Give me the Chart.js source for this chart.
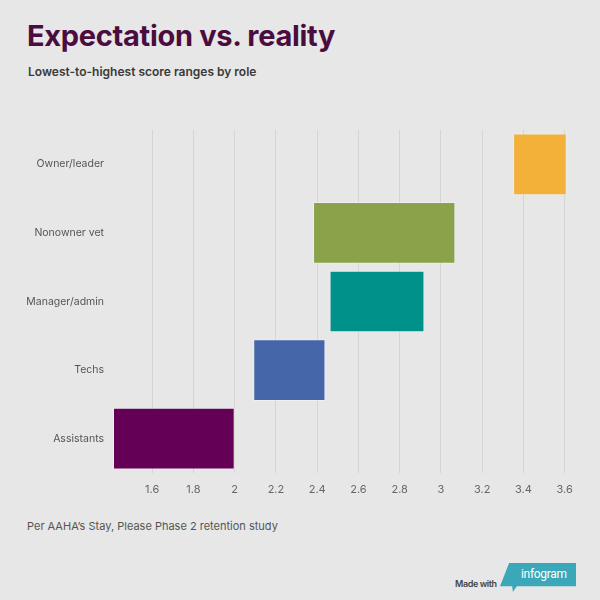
<!DOCTYPE html>
<html>
<head>
<meta charset="utf-8">
<script src="https://cdn.jsdelivr.net/npm/chart.js@4/dist/chart.umd.min.js"></script>
<style>
  html,body{margin:0;padding:0;}
  body{width:600px;height:600px;background:#e6e7e6;position:relative;overflow:hidden;font-family:Inter,"Noto Sans",sans-serif;}
  #title{position:absolute;left:27px;top:18px;font-size:29px;font-weight:700;color:#4b0c3e;letter-spacing:-0.3px;}
  #sub{position:absolute;left:28px;top:64px;font-size:12px;font-weight:600;color:#3a3a3a;}
  #wrap{position:absolute;left:0;top:110px;width:600px;height:400px;}
  #note{position:absolute;left:27px;top:519px;font-size:11px;color:#555;}
  #made{position:absolute;left:455px;top:578px;font-size:9px;font-weight:600;color:#444;letter-spacing:-0.4px;}
  #logo{position:absolute;left:500px;top:563px;width:76px;height:29px;}
  #logo .shape{position:absolute;inset:0;background:#3aa8b9;clip-path:polygon(12% 0,100% 0,100% 80%,22% 80%,17% 100%,16% 80%,0 80%);}
  #logo span{position:absolute;left:21px;top:4px;color:#fff;font-size:12px;font-family:Roboto,sans-serif;letter-spacing:-0.3px;}
</style>
</head>
<body>
<div id="title">Expectation vs. reality</div>
<div id="sub">Lowest-to-highest score ranges by role</div>
<div id="wrap"><canvas id="c"></canvas></div>
<div id="note">Per AAHA’s Stay, Please Phase 2 retention study</div>
<div id="made">Made with</div>
<div id="logo"><div class="shape"></div><span>infogram</span></div>
<script>
const roles=['Owner/leader','Nonowner vet','Manager/admin','Techs','Assistants'];
const lows=[3.35,2.38,2.46,2.09,1.41];
const highs=[3.61,3.07,2.92,2.44,2.0];
const colors=['#f3b13a','#8aa24a','#00918a','#4566a8','#650057'];
const xTicks=[1.6,1.8,2,2.2,2.4,2.6,2.8,3,3.2,3.4,3.6];

const ctx=document.getElementById('c').getContext('2d');
new Chart(ctx,{
  type:'bar',
  data:{labels:roles,datasets:[{
    data:roles.map((r,i)=>[lows[i],highs[i]]),
    backgroundColor:colors,
    borderColor:'rgba(255,255,255,0.35)',
    borderWidth:1,
    borderSkipped:false,
    barPercentage:0.9,
    categoryPercentage:1
  }]},
  options:{
    indexAxis:'y',
    responsive:true,
    maintainAspectRatio:false,
    animation:false,
    layout:{padding:{top:20,right:25,left:0,bottom:0}},
    plugins:{legend:{display:false},tooltip:{enabled:false}},
    scales:{
      x:{
        min:1.41,max:3.65,
        afterBuildTicks:s=>{s.ticks=xTicks.map(v=>({value:v}));},
        afterFit:s=>{s.height=37;},
        grid:{color:'#d4d5d4',lineWidth:1,drawTicks:false},
        border:{display:false},
        ticks:{color:'#666',font:{family:'Inter',size:11},padding:10,callback:v=>String(v)}
      },
      y:{
        afterFit:s=>{s.width=113;},
        grid:{display:false,drawTicks:false},
        border:{display:false},
        ticks:{color:'#555',font:{family:'Inter',size:10.5},padding:9}
      }
    }
  }
});
</script>
</body>
</html>
